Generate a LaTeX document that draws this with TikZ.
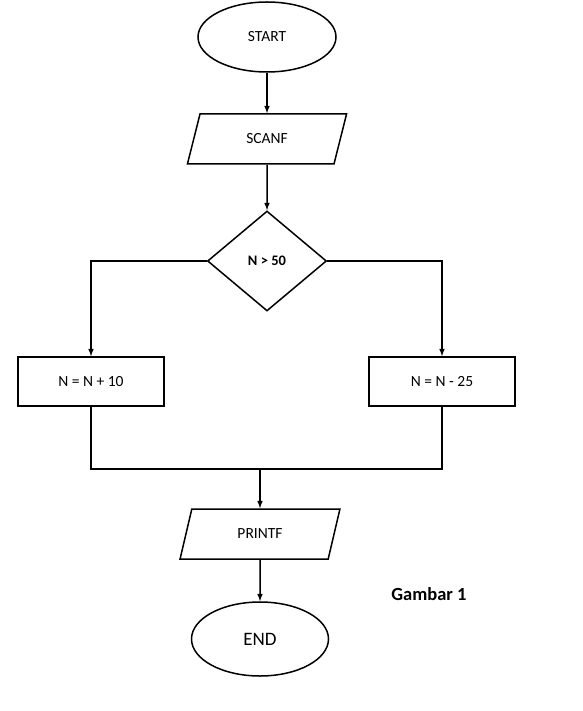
\documentclass[tikz,border=0pt]{standalone}
\usepackage{fontspec}
\setmainfont{Carlito}
\usetikzlibrary{shapes.geometric, positioning}

\tikzset{
  term/.style={ellipse, draw, minimum width=138pt, minimum height=70pt},
  io/.style={trapezium, trapezium left angle=75, trapezium right angle=105,
    trapezium stretches=true, draw, minimum width=160pt, minimum height=50pt},
  cond/.style={diamond, draw, minimum width=119pt, minimum height=100pt, inner sep=0pt},
  proc/.style={rectangle, draw, minimum width=146pt, minimum height=49pt}
}

\begin{document}
\begin{tikzpicture}[x=1pt, y=1pt, node distance=102pt, on grid, >=latex,
    line width=1.5pt, font=\fontsize{15.5}{18}\selectfont]
  \useasboundingbox (0,0) rectangle (582,-711);
  \node[term] (start) at (267,-37) {START};
  \node[io] (scan) [below=of start] {SCANF};
  \node[cond] (test) [below=122pt of scan] {\fontsize{14.5}{17}\selectfont\bfseries N > 50};
  \node[proc] (plus) [below left=120.5pt and 176pt of test] {N = N + 10};
  \node[proc] (minus) [below right=120.5pt and 175pt of test] {N = N - 25};
  \coordinate (merge) at (260,-469);
  \node[io] (print) at (260,-534) {PRINTF};
  \node[term, minimum width=137pt, minimum height=74pt] (end) [below=105pt of print]
    {\fontsize{19}{22}\selectfont END};
  \node (cap) at (429,-594) {\fontsize{18.5}{22}\selectfont\bfseries Gambar 1};
  \path[->]
  (start) edge (scan)
  (scan) edge (test)
  (merge) edge (print)
  (print) edge (end)
  ;
  \draw[->] (test) -| (plus);
  \draw[->] (test) -| (minus);
  \draw (plus) |- (merge) -| (minus);
\end{tikzpicture}
\end{document}
